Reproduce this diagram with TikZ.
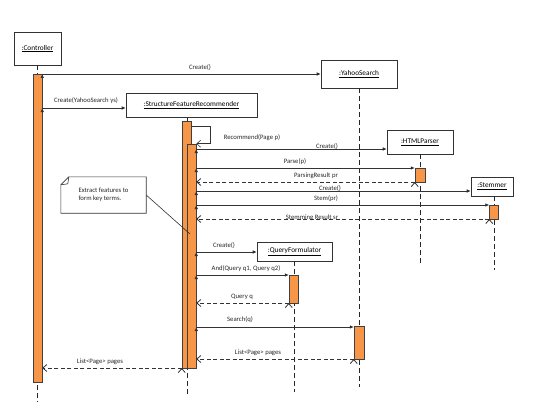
\documentclass[tikz,border=0pt]{standalone}
\usepackage{fontspec}
\setmainfont{Carlito}
\usepackage{tikz}
\usetikzlibrary{arrows.meta}
\definecolor{barOrange}{HTML}{F79646}

\begin{document}
\begin{tikzpicture}[x=1pt, y=-1pt,
            every node/.style={font=\fontsize{6.7}{8}\selectfont}]
            \tikzstyle{objStyle} = [draw=black!80, line width=0.6pt, fill=white, inner sep=0pt, font=\fontsize{7.3}{8.5}\selectfont]
            \tikzstyle{barStyle} = [draw=black!75, line width=0.5pt, fill=barOrange, minimum width=9pt, inner sep=0pt]
            \tikzstyle{lifeLine} = [draw=black!85, line width=0.9pt, dash pattern=on 5pt off 3pt]
            \tikzstyle{callEdge} = [draw=black!80, line width=0.6pt, -{Latex[length=4pt,width=3.5pt]}]
            \tikzstyle{selfEdge} = [draw=black!80, line width=0.6pt, -{Straight Barb[length=4pt,width=7pt]}]
            \tikzstyle{returnEdge} = [draw=black!80, line width=0.8pt, dash pattern=on 4pt off 2.5pt, -{Straight Barb[length=4pt,width=7pt]}]
            \tikzstyle{msgStyle} = [inner sep=0pt, text=black!85]
            \tikzstyle{noteLine} = [draw=black!80, line width=0.6pt]
            \useasboundingbox (0,0) rectangle (560,420);
            \node[objStyle, minimum width=47pt, minimum height=33pt] (ctrl) at (37.5,48.5) {\underline{:Controller}};
            \node[objStyle, minimum width=76pt, minimum height=28pt] (yahoo) at (359,74) {\underline{:YahooSearch}};
            \node[objStyle, minimum width=131pt, minimum height=24pt] (sfr) at (191.5,105) {\underline{:StructureFeatureRecommender}};
            \node[objStyle, minimum width=66pt, minimum height=24pt] (html) at (420,142) {\underline{:HTMLParser}};
            \node[objStyle, minimum width=42pt, minimum height=19pt] (stem) at (492,186.5) {\underline{:Stemmer}};
            \node[objStyle, minimum width=75pt, minimum height=19pt] (qf) at (294.5,251.5) {\underline{:QueryFormulator}};
            \coordinate (ctrl-end) at (37.5,402);
            \coordinate (yahoo-end) at (359,387);
            \coordinate (sfr-end) at (187,395);
            \coordinate (html-end) at (420,266);
            \coordinate (stem-end) at (494,270);
            \coordinate (qf-end) at (294,392);
            \foreach \obj in {ctrl,yahoo,sfr,html,stem,qf}
                \path[lifeLine] (\obj.south -| \obj-end) -- (\obj-end);
            \node[barStyle, minimum height=308pt] (ctrlBar) at (37.5,228) {};
            \node[barStyle, minimum height=247pt] (sfrBar) at (186.5,244.5) {};
            \node[barStyle, minimum height=224pt] (sfrBar2) at (191.5,256) {};
            \node[barStyle, minimum width=10pt, minimum height=14pt] (htmlBar) at (420,175) {};
            \node[barStyle, minimum height=14pt] (stemBar) at (494,212) {};
            \node[barStyle, minimum height=28pt] (qfBar) at (293.5,289) {};
            \node[barStyle, minimum width=10pt, minimum height=33pt] (yahooBar) at (359,342.5) {};
            \foreach \from/\to/\y/\lx/\ly/\txt in {ctrlBar/yahoo/74/200/68/Create(),
                                ctrlBar/sfr/108/86/101/Create(YahooSearch ys),
                                sfrBar2/html/149/327/147/Create(),
                                sfrBar2/htmlBar/168/295/162/Parse(p),
                                sfrBar2/stem/191/330/189/Create(),
                                sfrBar2/stemBar/205/326/199/Stem(pr),
                                sfrBar2/qf/252/224/246/Create(),
                                sfrBar2/qfBar/275/246/269/{And(Query q1, Query q2)},
                                sfrBar2/yahooBar/327/240/320/Search(q)}
                {\path[callEdge] (\from.east |- 0,\y) edge (\to.west |- 0,\y);
                 \node[msgStyle] at (\lx,\ly) {\txt};}
            \foreach \from/\to/\y/\lx/\ly/\txt in {htmlBar/sfrBar2/182/316/176/ParsingResult pr,
                                stemBar/sfrBar2/219/312/218/Stemming Result sr,
                                qfBar/sfrBar2/303/242/297/Query q,
                                yahooBar/sfrBar2/359/258/353/List\textless Page\textgreater{} pages,
                                sfrBar/ctrlBar/368/100/362/List\textless Page\textgreater{} pages}
                {\path[returnEdge] (\from.west |- 0,\y) edge (\to.east |- 0,\y);
                 \node[msgStyle] at (\lx,\ly) {\txt};}
            \coordinate (self-turn) at (210,126);
            \path[selfEdge] (sfrBar.east |- self-turn) -- (self-turn) |- (sfrBar2.north east);
            \node[msgStyle] (recommend) at (252,138) {Recommend(Page p)};
            \node[msgStyle, align=left, minimum width=85pt, minimum height=36pt] (note) at (103.5,195) {Extract features to\\form key terms.};
            \path[noteLine] ([yshift=-8pt]note.north west) -- ([xshift=8pt]note.north west) -- (note.north east)
                -- (note.south east) -- (note.south west) -- cycle;
            \path[noteLine] ([yshift=-8pt]note.north west) -- ([xshift=7pt,yshift=-7pt]note.north west) -- ([xshift=8pt]note.north west);
            \coordinate (note-end) at (190,234);
            \path[noteLine] (note.east) -- (note-end);
        \end{tikzpicture}
\end{document}
